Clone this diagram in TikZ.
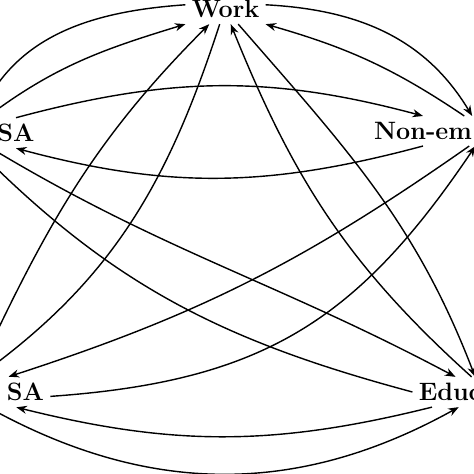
\documentclass[tikz,border=0pt]{standalone}
\usetikzlibrary{arrows.meta}

\begin{document}
\begin{tikzpicture}[
  lab/.style={font=\fontsize{14.3}{17}\selectfont\bfseries, inner sep=3.2pt},
  >={Stealth[length=6pt,width=4.6pt]},
  thick,
]
\useasboundingbox (0,0) rectangle (9.48,9.48);
\clip (0,0) rectangle (9.48,9.48);
\node (work) at (4.51,9.30) [lab] {Work};
\node (sa1) at (0.32,6.82) [lab] {SA};
\node (nonem) at (8.46,6.86) [lab] {Non-em};
\node (sa2) at (0.51,1.64) [lab] {SA};
\node (educ) at (9.00,1.64) [lab] {Educ};
% work and the top SA
\draw [->] (work.174) to [out=184, in=65] ([xshift=-0.25cm]sa1.north west);
\draw [->] ([xshift=-0.1cm]sa1.north west) to [out=37, in=197] (work.south west);
% work and Non-em
\draw [->] (work.6) to [out=-3, in=121] (nonem.17);
\draw [->] (nonem.20) to [out=146, in=-16] (work.south east);
% top SA and Non-em
\draw [->] (sa1.north) to [out=15, in=165] (nonem.north);
\draw [->] (nonem.south) to [out=195, in=-15] (sa1.south);
% work and the bottom SA
\draw [->] ([xshift=-0.5cm]sa2.north west) to [out=65, in=225] (work.-137);
\draw [->] (work.-111) to [out=252, in=36] ([xshift=-0.45cm]sa2.north west);
% work and Educ
\draw [->] (educ.35) to [out=138, in=-68] (work.-71);
\draw [->] (work.-50) to [out=-49, in=111] (educ.31);
% top SA and Educ
\draw [->] (sa1.south west) to [out=-31, in=152] (educ.70);
\draw [->] (educ.west) to [out=165, in=-45] ([xshift=-0.3cm]sa1.south west);
% Non-em and the bottom SA
\draw [->] (nonem.-18) to [out=215, in=18] (sa2.138);
\draw [->] (sa2.-10) to [out=4, in=236, looseness=1.1] (nonem.-16);
% the two bottom nodes
\draw [->] ([xshift=-0.25cm]sa2.south west) to [out=-29, in=209] (educ.-60);
\draw [->] (educ.-140) to [out=194, in=-14] (sa2.-121);
\end{tikzpicture}
\end{document}
